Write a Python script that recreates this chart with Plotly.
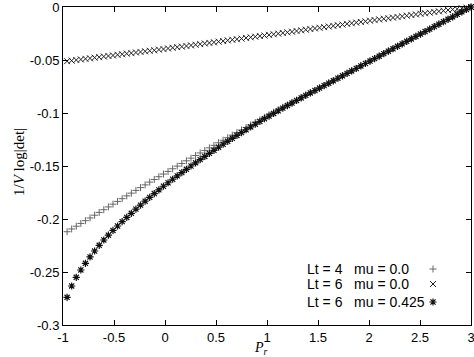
import plotly.graph_objects as go

x_start = -0.96
x_step = 0.045
n_pts = 89
pr = [round(x_start + x_step * i, 4) for i in range(n_pts)]

# Lt = 4, mu = 0.0  (+)
lt4_mu0 = [
    -0.2120, -0.2094, -0.2068, -0.2042, -0.2016, -0.1990, -0.1964, -0.1938, -0.1912, -0.1886,
    -0.1860, -0.1834, -0.1808, -0.1782, -0.1756, -0.1730, -0.1704, -0.1678, -0.1652, -0.1627,
    -0.1601, -0.1576, -0.1551, -0.1526, -0.1501, -0.1476, -0.1451, -0.1426, -0.1401, -0.1377,
    -0.1353, -0.1329, -0.1305, -0.1281, -0.1257, -0.1233, -0.1209, -0.1185, -0.1161, -0.1137,
    -0.1113, -0.1089, -0.1065, -0.1041, -0.1017, -0.0993, -0.0969, -0.0946, -0.0923, -0.0900,
    -0.0877, -0.0854, -0.0831, -0.0809, -0.0787, -0.0764, -0.0741, -0.0718, -0.0695, -0.0671,
    -0.0648, -0.0625, -0.0602, -0.0579, -0.0555, -0.0532, -0.0509, -0.0486, -0.0463, -0.0439,
    -0.0416, -0.0393, -0.0370, -0.0347, -0.0323, -0.0300, -0.0277, -0.0254, -0.0231, -0.0208,
    -0.0184, -0.0161, -0.0138, -0.0115, -0.0092, -0.0068, -0.0045, -0.0022, 0.0000,
]

# Lt = 6, mu = 0.0  (x)
lt6_mu0 = [
    -0.0511, -0.0506, -0.0500, -0.0495, -0.0489, -0.0484, -0.0478, -0.0473, -0.0467, -0.0462,
    -0.0457, -0.0451, -0.0446, -0.0440, -0.0435, -0.0429, -0.0424, -0.0418, -0.0413, -0.0408,
    -0.0402, -0.0397, -0.0391, -0.0385, -0.0379, -0.0374, -0.0368, -0.0362, -0.0356, -0.0350,
    -0.0344, -0.0339, -0.0333, -0.0327, -0.0321, -0.0315, -0.0309, -0.0304, -0.0298, -0.0292,
    -0.0286, -0.0280, -0.0274, -0.0269, -0.0263, -0.0257, -0.0251, -0.0245, -0.0239, -0.0233,
    -0.0226, -0.0220, -0.0214, -0.0208, -0.0202, -0.0196, -0.0190, -0.0184, -0.0178, -0.0172,
    -0.0166, -0.0159, -0.0153, -0.0147, -0.0141, -0.0135, -0.0129, -0.0123, -0.0117, -0.0111,
    -0.0106, -0.0100, -0.0094, -0.0088, -0.0082, -0.0076, -0.0070, -0.0064, -0.0059, -0.0053,
    -0.0047, -0.0041, -0.0035, -0.0029, -0.0023, -0.0018, -0.0012, -0.0006, 0.0000,
]

# Lt = 6, mu = 0.425  (*)
lt6_mu0425 = [
    -0.2739, -0.2632, -0.2550, -0.2481, -0.2418, -0.2358, -0.2302, -0.2248, -0.2198, -0.2153,
    -0.2108, -0.2066, -0.2025, -0.1985, -0.1946, -0.1907, -0.1869, -0.1832, -0.1796, -0.1760,
    -0.1725, -0.1691, -0.1658, -0.1625, -0.1593, -0.1562, -0.1531, -0.1500, -0.1470, -0.1440,
    -0.1410, -0.1381, -0.1352, -0.1323, -0.1295, -0.1267, -0.1239, -0.1212, -0.1185, -0.1158,
    -0.1132, -0.1106, -0.1080, -0.1054, -0.1029, -0.1004, -0.0979, -0.0954, -0.0930, -0.0906,
    -0.0882, -0.0858, -0.0834, -0.0811, -0.0788, -0.0765, -0.0742, -0.0719, -0.0696, -0.0672,
    -0.0649, -0.0626, -0.0603, -0.0580, -0.0556, -0.0533, -0.0510, -0.0487, -0.0464, -0.0440,
    -0.0417, -0.0394, -0.0371, -0.0348, -0.0324, -0.0301, -0.0278, -0.0255, -0.0232, -0.0209,
    -0.0185, -0.0162, -0.0139, -0.0116, -0.0093, -0.0069, -0.0046, -0.0023, 0.0000,
]

series_names = ["Lt = 4   mu = 0.0", "Lt = 6   mu = 0.0", "Lt = 6   mu = 0.425"]

x_tickvals = [-1, -0.5, 0, 0.5, 1, 1.5, 2, 2.5, 3]
x_ticktext = ["-1", "-0.5", "0", "0.5", "1", "1.5", "2", "2.5", "3"]
y_tickvals = [0, -0.05, -0.1, -0.15, -0.2, -0.25, -0.3]
y_ticktext = ["0", "-0.05", "-0.1", "-0.15", "-0.2", "-0.25", "-0.3"]

W, H = 474, 357
L, R, T, B = 63, 3, 7, 32
pw, ph = W - L - R, H - T - B


def px(xp):
    return (xp - L) / pw


def py(yp):
    return (H - B - yp) / ph


styles = [
    dict(symbol="cross-thin-open", size=5, line=dict(width=1, color="#666666"), color="#666666"),
    dict(symbol="x-thin-open", size=6, line=dict(width=1, color="#222222"), color="#222222"),
    dict(symbol="asterisk-open", size=6, line=dict(width=1.2, color="#111111"), color="#111111"),
]

fig = go.Figure()
for ys, st, nm in zip([lt4_mu0, lt6_mu0, lt6_mu0425], styles, series_names):
    fig.add_trace(go.Scatter(x=pr, y=ys, mode="markers", marker=st, name=nm,
                             showlegend=False, cliponaxis=False))

# legend keys (gnuplot style: text left, sample right) on a helper 0..1 axis
leg_y = [py(269), py(284), py(302)]
for ly, st, nm in zip(leg_y, styles, series_names):
    fig.add_trace(go.Scatter(x=[px(433)], y=[ly], mode="markers", marker=st,
                             xaxis="x2", yaxis="y2", showlegend=False, hoverinfo="skip"))
    fig.add_annotation(x=px(305), y=ly, xref="paper", yref="paper", text=nm,
                       showarrow=False, xanchor="left", yanchor="middle",
                       font=dict(family="Liberation Sans, Arial, sans-serif", size=14, color="black"))

axis_common = dict(showgrid=False, zeroline=False, showline=True, linecolor="black",
                   linewidth=1, mirror="ticks", ticks="inside", ticklen=5,
                   tickcolor="black", tickwidth=1, automargin=False,
                   ticklabeloverflow="allow",
                   tickfont=dict(family="Liberation Sans, Arial, sans-serif", size=13, color="black"))

fig.update_layout(
    width=W, height=H,
    margin=dict(l=L, r=R, t=T, b=B, autoexpand=False),
    paper_bgcolor="white", plot_bgcolor="white",
    xaxis=dict(range=[-1, 3], tickmode="array", tickvals=x_tickvals, ticktext=x_ticktext, **axis_common),
    yaxis=dict(range=[-0.3, 0], tickmode="array", tickvals=y_tickvals, ticktext=y_ticktext, **axis_common),
    xaxis2=dict(overlaying="x", range=[0, 1], visible=False),
    yaxis2=dict(overlaying="y", range=[0, 1], visible=False),
    showlegend=False,
)

fig.add_annotation(x=px(261), y=py(348), xref="paper", yref="paper",
                   xanchor="center", yanchor="middle",
                   text="<i>P</i><sub><i>r</i></sub>", showarrow=False,
                   font=dict(family="Liberation Serif, Times New Roman, serif", size=14, color="black"))
fig.add_annotation(x=px(19), y=py(162), xref="paper", yref="paper",
                   xanchor="center", yanchor="middle",
                   text="1/<i>V</i> log|det|", showarrow=False, textangle=-90,
                   font=dict(family="Liberation Serif, Times New Roman, serif", size=15, color="black"))

fig.write_html("out.html", config={"displayModeBar": False},
               post_script="document.body.style.margin='0';document.body.style.overflow='hidden';")
